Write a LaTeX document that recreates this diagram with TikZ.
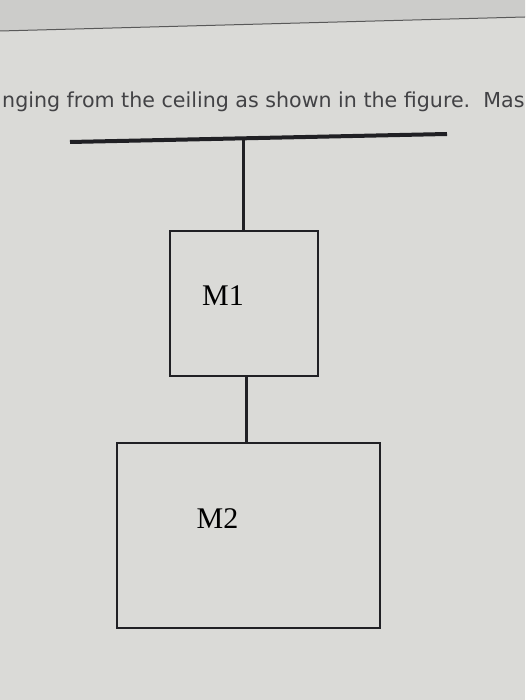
\documentclass[tikz,border=0pt]{standalone}
\usepackage{fontspec}
\setmainfont{Liberation Serif}
\newfontfamily\pagefont{DejaVu Sans}
\usetikzlibrary{calc}
\definecolor{screen}{RGB}{218,218,215}
\definecolor{screentop}{RGB}{204,204,202}
\definecolor{ink}{RGB}{32,32,36}

\begin{document}
\begin{tikzpicture}[x=1pt,y=-1pt,
  mass/.style={draw=ink,line width=1.3pt,inner sep=0pt},
  rope/.style={draw=ink,line width=3pt}]
  \useasboundingbox (0,0) rectangle (525,700);
  \clip (0,0) rectangle (525,700);
  \fill[screen] (0,0) rectangle (525,700);
  \fill[screentop] (0,0) -- (525,0) -- (525,17) -- (0,31) -- cycle;
  \draw[gray!70!black,line width=1pt] (0,31) -- (525,17);
  \node[anchor=base west,text=ink!85,font=\pagefont\fontsize{20.6}{24}\selectfont,inner sep=0pt]
    (caption) at (2,108) {nging from the ceiling as shown in the figure.\ \ Mas};
  % ceiling
  \coordinate (cl) at (70,142);
  \coordinate (cr) at (447,134);
  \draw[ink,line width=4pt] (cl) -- (cr);
  \coordinate (hook) at (243,139);
  % masses
  \node[mass,minimum width=148pt,minimum height=145pt,
    label={[font=\fontsize{30}{32}\selectfont,xshift=-21pt,yshift=8pt]center:M1}]
    (m1) at (244,303.5) {};
  \node[mass,minimum width=263pt,minimum height=185pt,
    label={[font=\fontsize{30}{32}\selectfont,xshift=-31pt,yshift=17pt]center:M2}]
    (m2) at (248.5,535.5) {};
  \draw[rope] (hook) -- (hook |- m1.north);
  \draw[rope] ([xshift=2pt]m1.south) -- ([xshift=2pt]m1.south |- m2.north);
\end{tikzpicture}
\end{document}
